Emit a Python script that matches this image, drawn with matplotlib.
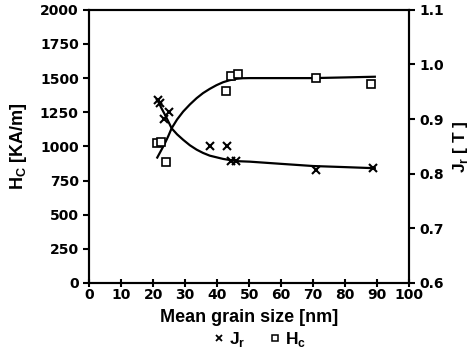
import matplotlib
matplotlib.use("Agg")
import matplotlib.pyplot as plt
from matplotlib.lines import Line2D

# Data
hc_x = [21.1, 22.6, 23.9, 42.9, 44.3, 46.6, 70.8, 88.0]
hc_y = [1023, 1035, 889, 1409, 1516, 1531, 1500, 1458]

jr_x = [21.6, 22.1, 23.3, 25.0, 37.7, 43.2, 44.5, 45.8, 70.8, 88.6]
jr_y = [0.935, 0.930, 0.900, 0.913, 0.851, 0.851, 0.823, 0.823, 0.807, 0.810]

hc_fit_x = [21.3, 22.5, 23.7, 24.8, 25.8, 27.5, 29.4, 31.5, 33.6, 35.6, 37.7, 39.8, 41.9, 44.0, 46.1, 48.0, 50.2, 60.0, 70.0, 80.0, 89.3]
hc_fit_y = [918, 970, 1023, 1078, 1133, 1197, 1255, 1307, 1353, 1390, 1421, 1448, 1470, 1485, 1495, 1499, 1500, 1500, 1500, 1505, 1510]

jr_fit_x = [21.6, 22.6, 23.7, 24.8, 25.8, 27.5, 29.4, 31.5, 33.6, 35.6, 37.7, 39.8, 41.9, 44.0, 46.1, 48.0, 50.2, 60.0, 70.0, 80.0, 89.3]
jr_fit_y = [0.932, 0.920, 0.908, 0.895, 0.883, 0.872, 0.862, 0.852, 0.844, 0.838, 0.833, 0.830, 0.827, 0.825, 0.823, 0.8225, 0.822, 0.818, 0.814, 0.812, 0.810]

x_ticks = list(range(0, 101, 10))
hc_ticks = [0, 250, 500, 750, 1000, 1250, 1500, 1750, 2000]
jr_ticks = [0.6, 0.7, 0.8, 0.9, 1.0, 1.1]

plt.rcParams['font.family'] = ['DejaVu Sans']

fig = plt.figure(figsize=(4.74, 3.51), dpi=100)
ax = fig.add_axes([0.188, 0.194, 0.675, 0.778])
ax2 = ax.twinx()

lw = 1.6
ax.plot(hc_fit_x, hc_fit_y, color='black', lw=lw)
ax.plot(hc_x, hc_y, linestyle='none', marker='s', markersize=6,
        markerfacecolor='white', markeredgecolor='black', markeredgewidth=1.2)
ax2.plot(jr_fit_x, jr_fit_y, color='black', lw=lw)
ax2.plot(jr_x, jr_y, linestyle='none', marker='x', markersize=6,
         color='black', markeredgewidth=1.5)

ax.set_xlim(0, 100)
ax.set_ylim(0, 2000)
ax2.set_ylim(0.6, 1.1)
ax.set_xticks(x_ticks)
ax.set_yticks(hc_ticks)
ax2.set_yticks(jr_ticks)
ax2.set_yticklabels(['0.6', '0.7', '0.8', '0.9', '1.0', '1.1'])

for a in (ax, ax2):
    for s in a.spines.values():
        s.set_linewidth(1.5)
ax.tick_params(axis='both', which='major', labelsize=10, width=1.5, length=4)
ax.tick_params(axis='x', direction='inout', length=6, pad=1)
ax2.tick_params(axis='y', labelsize=10, width=1.5, length=4)
for lab in ax.get_xticklabels() + ax.get_yticklabels() + ax2.get_yticklabels():
    lab.set_fontweight('bold')

ax.set_xlabel('Mean grain size [nm]', fontsize=13, fontweight='bold',
              family='Liberation Sans', labelpad=5)
ax.set_ylabel(r'H$_\mathregular{C}$ [KA/m]', fontsize=13, fontweight='bold',
              family='Liberation Sans', labelpad=8)
ax2.set_ylabel(r'J$_\mathregular{r}$ [ T ]', fontsize=12.5, fontweight='bold',
               family='Liberation Sans', rotation=90, labelpad=5)

handles = [
    Line2D([], [], linestyle='none', marker='x', color='black', markersize=5, markeredgewidth=1.3),
    Line2D([], [], linestyle='none', marker='s', markersize=5, markerfacecolor='white',
           markeredgecolor='black', markeredgewidth=1.1),
]
fig.legend(handles, [r'J$_\mathregular{r}$', r'H$_\mathregular{c}$'], loc='lower center',
           bbox_to_anchor=(0.545, -0.04), ncol=2, frameon=False, handletextpad=0.1,
           columnspacing=1.2, handlelength=1.0,
           prop={'family': 'Liberation Sans', 'weight': 'bold', 'size': 12.5})

fig.savefig('out.png', dpi=100)
